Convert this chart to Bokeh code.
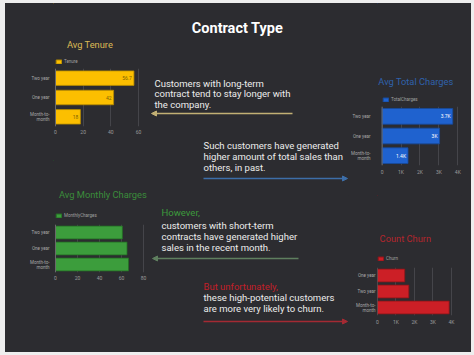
from bokeh.plotting import figure
from bokeh.models import (ColumnDataSource, FactorRange, Range1d, Label, LabelSet, Span,
                          Legend, LegendItem, FixedTicker, Arrow, NormalHead)
from bokeh.layouts import row, column
from bokeh.core.properties import value
from bokeh.embed import file_html
from bokeh.resources import INLINE

BG = "#2c2c30"
EDGE = "#eeeeee"
FONT = "Roboto"

# ---------------- data ----------------
tenure_cats = ["Month-to-month", "One year", "Two year"]      # bottom -> top
tenure_vals = [18.0, 42.0, 56.7]
tenure_text = ["18", "42", "56.7"]

total_cats = ["Month-to-month", "One year", "Two year"]
total_vals = [1370, 3035, 3730]
total_text = ["1.4K", "3K", "3.7K"]

monthly_cats = ["Month-to-month", "One year", "Two year"]
monthly_vals = [66.4, 65.0, 60.8]

churn_cats = ["Month-to-month", "Two year", "One year"]
churn_vals = [3875, 1695, 1473]

tenure_ticks = [0, 20, 40, 60]
monthly_ticks = [0, 20, 40, 60, 80]
k_ticks = [0, 1000, 2000, 3000, 4000]
k_tick_labels = ["0", "1K", "2K", "3K", "4K"]

note1 = ["Customers with long-term", "contract tend to stay longer with", "the company."]
note2 = ["Such customers have generated", "higher amount of total sales than", "others, in past."]
note3_head = "However,"
note3 = ["customers with short-term", "contracts have generated higher", "sales in the recent month."]
note4_head = "But unfortunately,"
note4 = ["these high-potential customers", "are more very likely to churn."]

# ---------------- geometry (reference pixel coordinates) ----------------
PX0, PY0, PX1, PY1 = 5, 3, 471, 352          # dark panel
LEFT_X0, MID_X0, RIGHT_X0 = PX0, 150, 348
LEFT_W, MID_W, RIGHT_W = MID_X0 - LEFT_X0, RIGHT_X0 - MID_X0, PX1 - RIGHT_X0
PH = PY1 - PY0
# shared frame extent of every figure in a column (so frames line up)
LF, RF = 53, 149          # left column
RLF, RRF = 369, 461       # right column


def wrap(c):
    return c.replace("to-month", "to-\nmonth")


def base(width, height, x0, fl, fr, x_range, y_range, top=0, bottom=0):
    f = figure(width=width, height=height, output_backend="svg", toolbar_location=None,
               x_range=x_range, y_range=y_range,
               min_border_left=fl - x0, min_border_right=x0 + width - fr,
               min_border_top=top, min_border_bottom=bottom)
    f.background_fill_color = BG
    f.border_fill_color = BG
    f.outline_line_color = None
    return f


def blank(w, h, color):
    f = figure(width=w, height=h, output_backend="svg", toolbar_location=None,
               x_axis_location=None, y_axis_location=None, min_border=0)
    f.background_fill_color = color
    f.border_fill_color = color
    f.outline_line_color = None
    f.grid.visible = False
    return f


def header(x0, width, fl, fr, y0, h, title, tcolor, txy, legend_label, color, edge, lxy):
    f = figure(width=width, height=h, output_backend="svg", toolbar_location=None,
               x_range=Range1d(fl, fr), y_range=Range1d(y0 + h, y0),
               x_axis_location=None, y_axis_location=None,
               min_border_left=fl - x0, min_border_right=x0 + width - fr,
               min_border_top=0, min_border_bottom=0)
    f.background_fill_color = BG
    f.border_fill_color = BG
    f.outline_line_color = None
    f.grid.visible = False
    f.add_layout(Label(x=txy[0], y=txy[1], text=title, text_align="center",
                       text_baseline="middle", text_font=FONT, text_font_size="9.3px",
                       text_color=tcolor))
    # legend proxy glyph (kept outside the visible range; only its legend swatch shows)
    r = f.hbar(y=[-10000], left=[0], right=[1], height=1, fill_color=color, line_color=edge)
    lx, ly = lxy
    leg = Legend(items=[LegendItem(label=legend_label, renderers=[r])],
                 location=(lx - fl, (y0 + h) - ly - 2.5),
                 background_fill_alpha=0, border_line_color=None,
                 padding=0, margin=0, spacing=0,
                 glyph_width=7, glyph_height=5, label_height=5, label_width=10,
                 label_standoff=2, label_text_font_size="4.5px",
                 label_text_color="#a0a0a0", label_text_font=FONT)
    f.add_layout(leg, "center")
    return f


def bar_chart(cats, vals, ticks, tick_labels, color, edge, bar_h,
              x0, width, fl, fr, zero_px, end_px, y0, height, ft, fb,
              vtext=None, vtext_color=None):
    shown = [wrap(c) for c in cats]
    per_px = ticks[-1] / (end_px - zero_px)
    xr = Range1d((fl - zero_px) * per_px, (fr - zero_px) * per_px)
    p = base(width, height, x0, fl, fr, xr, FactorRange(factors=shown),
             top=ft - y0, bottom=y0 + height - fb)
    src = ColumnDataSource(dict(cat=shown, val=vals))
    p.hbar(y="cat", left=0, right="val", height=bar_h, source=src,
           fill_color=color, line_color=edge, line_width=0.8)
    p.xaxis.ticker = FixedTicker(ticks=ticks)
    p.xaxis.major_label_overrides = {t: l for t, l in zip(ticks, tick_labels)}
    p.xaxis.axis_line_color = None
    p.xaxis.major_tick_line_color = None
    p.xaxis.minor_tick_line_color = None
    p.xaxis.major_tick_out = 0
    p.xaxis.major_tick_in = 0
    p.xaxis.major_label_text_font_size = "5px"
    p.xaxis.major_label_text_color = "#9a9a9a"
    p.xaxis.major_label_text_font = FONT
    p.xaxis.major_label_standoff = 3
    p.xgrid.ticker = FixedTicker(ticks=ticks)
    p.xgrid.grid_line_color = "#45454a"
    p.ygrid.grid_line_color = None
    p.yaxis.axis_line_color = None
    p.yaxis.major_tick_line_color = None
    p.yaxis.minor_tick_line_color = None
    p.yaxis.major_tick_out = 0
    p.yaxis.major_tick_in = 0
    p.yaxis.major_label_standoff = (zero_px - fl) + 2
    p.yaxis.major_label_text_font_size = "4.5px"
    p.yaxis.major_label_text_color = "#a8a8a8"
    p.yaxis.major_label_text_font = FONT
    p.yaxis.major_label_text_line_height = 1.0
    p.add_layout(Span(location=0, dimension="height", line_color="#6a6a6a", line_width=1))
    if vtext is not None:
        lsrc = ColumnDataSource(dict(cat=shown, val=vals, t=vtext))
        p.add_layout(LabelSet(x="val", y="cat", text="t", source=lsrc,
                              x_offset=-2, text_align="right", text_baseline="middle",
                              text_font=value(FONT), text_font_size=value("5px"),
                              text_color=vtext_color))
    return p


# left column
t_head = header(LEFT_X0, LEFT_W, LF, RF, PY0, 63, "Avg Tenure", "#dcbb55", (89.5, 44),
                "Tenure", "#fcbf00", "#b58a00", (55, 61.5))
t_chart = bar_chart(tenure_cats, tenure_vals, tenure_ticks, [str(t) for t in tenure_ticks],
                    "#fcbf00", "#b58a00", 0.75,
                    LEFT_X0, LEFT_W, LF, RF, 55, 138, 66, 94, 68, 126,
                    tenure_text, "#7d5f05")
m_head = header(LEFT_X0, LEFT_W, LF, RF, 160, 62, "Avg Monthly  Charges", "#3b8c3b", (103.5, 194),
                "MonthlyCharges", "#3c9d3c", "#256f25", (55, 215.5))
m_chart = bar_chart(monthly_cats, monthly_vals, monthly_ticks, [str(t) for t in monthly_ticks],
                    "#3c9d3c", "#256f25", 0.8,
                    LEFT_X0, LEFT_W, LF, RF, 55, 143, 222, PY1 - 222, 224, 272)

# right column
tc_head = header(RIGHT_X0, RIGHT_W, RLF, RRF, PY0, 101, "Avg Total Charges", "#2f62ad", (411, 81),
                 "TotalCharges", "#1f62cf", "#174a9c", (374, 99.5))
tc_chart = bar_chart(total_cats, total_vals, k_ticks, k_tick_labels,
                     "#1f62cf", "#174a9c", 0.8,
                     RIGHT_X0, RIGHT_W, RLF, RRF, 374, 457, 104, 91, 106, 165,
                     total_text, "#ffffff")
c_head = header(RIGHT_X0, RIGHT_W, RLF, RRF, 195, 70, "Count Churn", "#b3262d", (399.5, 238),
                "Churn", "#cc1f26", "#8e1519", (369, 258))
c_chart = bar_chart(churn_cats, churn_vals, k_ticks, k_tick_labels,
                    "#cc1f26", "#8e1519", 0.8,
                    RIGHT_X0, RIGHT_W, RLF, RRF, 369, 450, 265, PY1 - 265, 267, 315)

# ---------------- middle text panel ----------------
mid = figure(width=MID_W, height=PH, output_backend="svg", toolbar_location=None,
             x_range=Range1d(MID_X0, RIGHT_X0), y_range=Range1d(PY1, PY0),
             x_axis_location=None, y_axis_location=None, min_border=0)
mid.background_fill_color = BG
mid.border_fill_color = BG
mid.outline_line_color = None
mid.grid.visible = False

mid.add_layout(Label(x=237, y=28, text="Contract Type", text_align="center",
                     text_baseline="middle", text_font=FONT,
                     text_font_style="bold", text_font_size="14.5px", text_color="#ffffff"))


def para(x, y0, lines, lh=10.8, color="#ececec"):
    for i, t in enumerate(lines):
        mid.add_layout(Label(x=x, y=y0 + i * lh, text=t, text_align="left",
                             text_baseline="middle", text_font=FONT,
                             text_font_size="9.5px", text_color=color))


para(154, 83, note1, lh=10.3)
para(203, 145, note2, lh=11)
para(161, 212, [note3_head], color="#3c9a3c")
para(161, 224.5, note3, lh=11)
para(203, 286, [note4_head], color="#c21f29")
para(203, 297, note4, lh=11)


def arrow(xs, xe, y, color):
    mid.add_layout(Arrow(end=NormalHead(size=5, fill_color=color, line_color=color),
                         x_start=xs, y_start=y, x_end=xe, y_end=y,
                         line_color=color, line_width=1.5))


arrow(292, MID_X0 + 1, 113, "#c2b074")
arrow(203, RIGHT_X0 - 1, 178, "#3d6ea8")
arrow(298, 152, 258, "#5f7f5f")
arrow(203, RIGHT_X0 - 1, 321, "#a42a33")

left_col = column(t_head, t_chart, m_head, m_chart, spacing=0, styles={"background-color": BG})
right_col = column(tc_head, tc_chart, c_head, c_chart, spacing=0, styles={"background-color": BG})
main = row(left_col, mid, right_col, spacing=0, styles={"background-color": BG})

layout = column(
    blank(474, PY0, EDGE),
    row(blank(PX0, PH, EDGE), main, blank(474 - PX1, PH, EDGE), spacing=0),
    blank(474, 355 - PY1, EDGE),
    spacing=0, styles={"background-color": EDGE})

open("out.html", "w").write(file_html(layout, INLINE))
